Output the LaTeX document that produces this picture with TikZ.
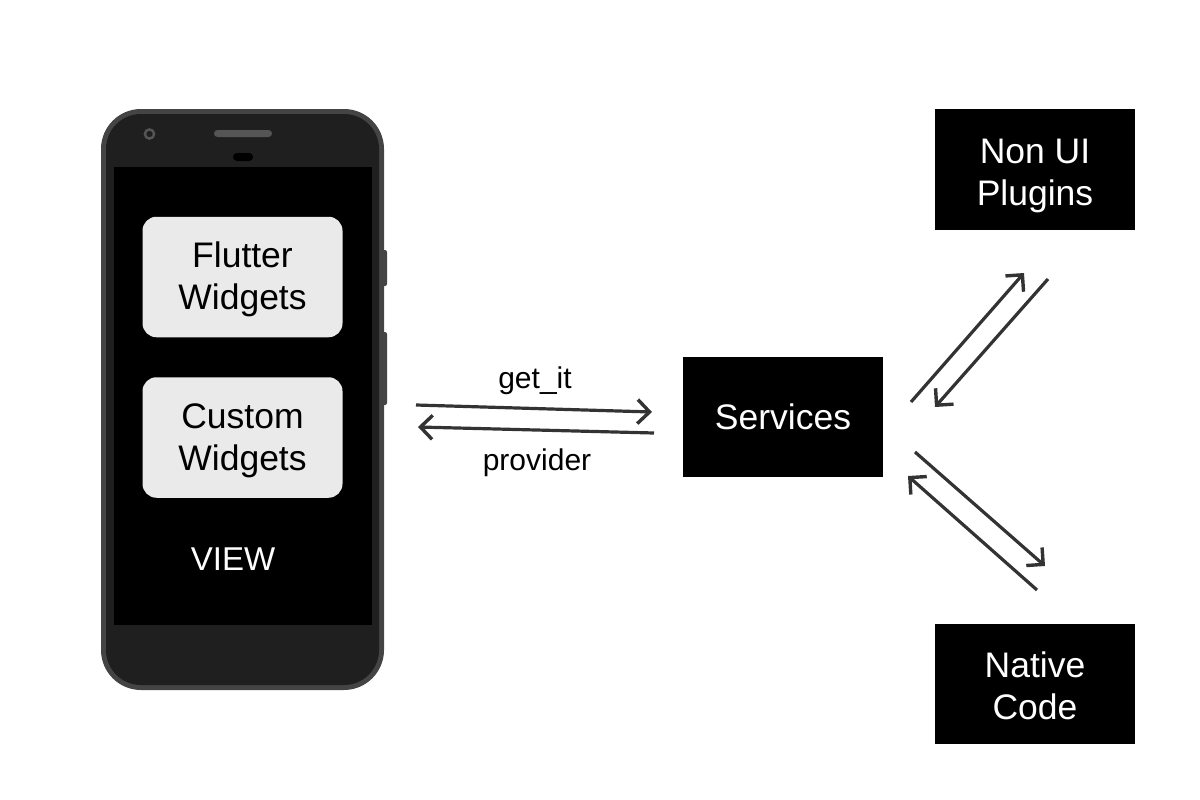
\documentclass[tikz,border=0pt]{standalone}
\usepackage{fontspec}
\setmainfont{Liberation Sans}
\usepackage{tikz}
\usetikzlibrary{positioning,arrows.meta}
\definecolor{PhoneEdge}{HTML}{444444}
\definecolor{PhoneBody}{HTML}{1F1F1F}
\definecolor{PhonePart}{HTML}{555555}
\definecolor{WidgetFill}{HTML}{EAEAEA}
\definecolor{ArrowInk}{HTML}{333333}
\newcommand{\lift}[1]{\rule{0pt}{#1}}

\begin{document}
\begin{tikzpicture}[
		x=1pt,y=-1pt,
		->,>={Straight Barb[length=12pt,width=24pt,line width=3.4pt]},
		node distance=40pt,
		block/.style={
			fill=black,
			text=white,
			rectangle,
			outer sep=0pt,
			minimum width=200pt,
			minimum height=120.5pt,
			align=center,
			font=\fontsize{35.5}{42}\selectfont
		},
		widget/.style={
			block,
			fill=WidgetFill,
			text=black,
			rounded corners=14pt
		},
		link/.style={
			draw=ArrowInk,
			line width=3.2pt
		},
		every node/.style={font=\fontsize{30}{34}\selectfont}
		]
		\useasboundingbox (0,0) rectangle (1200,800);
		
		% Phone
		\fill[PhoneEdge,rounded corners=40pt] (101,109) rectangle (384,690);
		\fill[PhoneEdge,rounded corners=2pt] (380,250) rectangle (387,286);
		\fill[PhoneEdge,rounded corners=2pt] (380,332) rectangle (387,405);
		\fill[PhoneBody,rounded corners=35pt] (106,114) rectangle (379,685);
		\fill[black] (114,167) rectangle (372,625);
		\draw[-,PhonePart,line width=2.4pt] (149.5,134) circle (4.6pt);
		\fill[PhonePart,rounded corners=3.5pt] (214,130) rectangle (272,137);
		\fill[black,rounded corners=4pt] (233,153) rectangle (253,161);
		
		% Widgets
		\node[widget] (flutter) at (242.5,277) {\lift{31pt}Flutter\\Widgets};
		\node[widget, below=of flutter] (custom) {\lift{31pt}Custom\\Widgets};
		\node[font=\fontsize{33}{42}\selectfont, text=white] (view) at (233,559) {VIEW};
		
		% Right-hand blocks
		\node[block] (services) at (783,417) {Services};
		\node[block] (nonui) at (1035,169.5) {\lift{37pt}Non UI\\Plugins};
		\node[block, below=394pt of nonui] (native) {\lift{29pt}Native\\Code};
		
		% Arrow ends
		\coordinate (getS) at (416,405);
		\coordinate (getE) at (652,412);
		\coordinate (provS) at (654,433);
		\coordinate (provE) at (418,427);
		\coordinate (upS) at (911,402);
		\coordinate (upE) at (1024,273);
		\coordinate (downS) at (1048,279);
		\coordinate (downE) at (935,407);
		\coordinate (natS) at (915,452);
		\coordinate (natE) at (1045,566);
		\coordinate (backS) at (1037,590);
		\coordinate (backE) at (908,476);
		
		% Arrows
		\draw[link] (getS) -- (getE);
		\draw[link] (provS) -- (provE);
		\draw[link] (upS) -- (upE);
		\draw[link] (downS) -- (downE);
		\draw[link] (natS) -- (natE);
		\draw[link] (backS) -- (backE);
		
		% Labels
		\node (getit) at (535,381) {get\_it};
		\node (provider) at (537,463) {provider};
	\end{tikzpicture}
\end{document}
